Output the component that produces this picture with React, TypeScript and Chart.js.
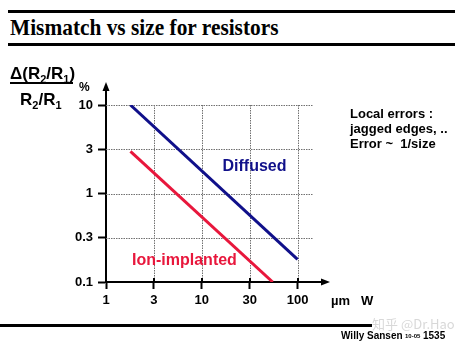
import React, { useEffect, useRef } from "react";
import { Chart, registerables } from "chart.js";

Chart.register(...registerables);

// ---- data ----
const xTickValues = [1, 3.162, 10, 31.62, 100];
const xTickLabels = ["1", "3", "10", "30", "100"];
const yTickValues = [0.1, 0.3162, 1, 3.162, 10];
const yTickLabels = ["0.1", "0.3", "1", "3", "10"];

const diffusedWidth = [1.8, 100];
const diffusedError = [10, 0.18];
const ionWidth = [1.8, 55];
const ionError = [3, 0.1];

const xMin = 1;
const xMax = 145;
const yMin = 0.1;
const yMax = 10;

const SANS = "'Liberation Sans', Arial, Helvetica, sans-serif";
const SERIF = "'Liberation Serif', 'Times New Roman', serif";
const NAVY = "#10108a";
const RED = "#e8173c";
const GRID = "#707070";

const gridPlugin = {
  id: "dottedGrid",
  beforeDatasetsDraw(chart: any) {
    const { ctx, chartArea } = chart;
    const { left, right, top, bottom } = chartArea;
    const xs = chart.scales.x;
    const ys = chart.scales.y;
    ctx.save();
    ctx.strokeStyle = GRID;
    ctx.lineWidth = 1;
    ctx.setLineDash([1.5, 1]);
    ctx.beginPath();
    xTickValues.forEach((v, i) => {
      if (i === 0) return;
      const px = Math.round(xs.getPixelForValue(v)) + 0.5;
      ctx.moveTo(px, top);
      ctx.lineTo(px, bottom);
    });
    yTickValues.forEach((v, i) => {
      if (i === 0) return;
      const py = Math.round(ys.getPixelForValue(v)) + 0.5;
      ctx.moveTo(left, py);
      ctx.lineTo(right, py);
    });
    ctx.stroke();
    ctx.restore();
  },
};

const arrowPlugin = {
  id: "axisArrows",
  afterDraw(chart: any) {
    const { ctx, chartArea } = chart;
    const { left, right, top, bottom } = chartArea;
    ctx.save();
    ctx.strokeStyle = "#000";
    ctx.fillStyle = "#000";
    ctx.lineWidth = 2;
    // y axis extension
    ctx.beginPath();
    ctx.moveTo(left, top);
    ctx.lineTo(left, top - 17);
    ctx.stroke();
    ctx.beginPath();
    ctx.moveTo(left, top - 23);
    ctx.lineTo(left - 3.5, top - 14);
    ctx.lineTo(left + 3.5, top - 14);
    ctx.closePath();
    ctx.fill();
    // x axis extension
    ctx.beginPath();
    ctx.moveTo(right, bottom);
    ctx.lineTo(right + 10, bottom);
    ctx.stroke();
    ctx.beginPath();
    ctx.moveTo(right + 17, bottom);
    ctx.lineTo(right + 8, bottom - 3.5);
    ctx.lineTo(right + 8, bottom + 3.5);
    ctx.closePath();
    ctx.fill();
    // x tick marks crossing the axis slightly
    const xs = chart.scales.x;
    xTickValues.forEach((v) => {
      const px = Math.round(xs.getPixelForValue(v));
      ctx.beginPath();
      ctx.moveTo(px, bottom);
      ctx.lineTo(px, bottom - 4);
      ctx.stroke();
    });
    ctx.restore();
  },
};

function ChartCanvas() {
  const ref = useRef<HTMLCanvasElement | null>(null);
  useEffect(() => {
    if (!ref.current) return;
    const chart = new Chart(ref.current, {
      type: "line",
      data: {
        datasets: [
          {
            label: "Diffused",
            data: diffusedWidth.map((w, i) => ({ x: w, y: diffusedError[i] })),
            borderColor: NAVY,
            borderWidth: 3,
            pointRadius: 0,
            fill: false,
          },
          {
            label: "Ion-implanted",
            data: ionWidth.map((w, i) => ({ x: w, y: ionError[i] })),
            borderColor: RED,
            borderWidth: 3,
            pointRadius: 0,
            fill: false,
          },
        ],
      },
      options: {
        animation: false,
        responsive: false,
        devicePixelRatio: 1,
        layout: { padding: { left: 0, top: 105, right: 161, bottom: 0 } },
        plugins: {
          legend: { display: false },
          tooltip: { enabled: false },
          title: { display: false },
        },
        scales: {
          x: {
            type: "logarithmic",
            min: xMin,
            max: xMax,
            afterBuildTicks: (scale: any) => {
              scale.ticks = xTickValues.map((v) => ({ value: v }));
            },
            afterFit: (scale: any) => {
              scale.height = 71;
            },
            ticks: {
              autoSkip: false,
              maxRotation: 0,
              padding: 4,
              color: "#000",
              font: { family: SANS, size: 13, weight: "bold" },
              callback: (_v: any, i: number) => xTickLabels[i],
            },
            grid: {
              drawOnChartArea: false,
              color: GRID,
              tickColor: "#000",
              tickWidth: 2,
              tickLength: 7,
            },
            border: { color: "#000", width: 2 },
          },
          y: {
            type: "logarithmic",
            min: yMin,
            max: yMax,
            afterBuildTicks: (scale: any) => {
              scale.ticks = yTickValues.map((v) => ({ value: v }));
            },
            afterFit: (scale: any) => {
              scale.width = 106;
            },
            ticks: {
              autoSkip: false,
              padding: 5,
              color: "#000",
              font: { family: SANS, size: 13, weight: "bold" },
              callback: (_v: any, i: number) => yTickLabels[i],
            },
            grid: {
              drawOnChartArea: false,
              color: GRID,
              tickColor: "#000",
              tickWidth: 2,
              tickLength: 8,
            },
            border: { color: "#000", width: 2 },
          },
        },
      },
      plugins: [gridPlugin, arrowPlugin],
    } as any);
    return () => chart.destroy();
  }, []);
  return (
    <canvas
      ref={ref}
      width={474}
      height={353}
      style={{ position: "absolute", left: 0, top: 0, width: 474, height: 353 }}
    />
  );
}

const abs = (left: number, top: number, extra: any = {}) => ({
  position: "absolute" as const,
  left,
  top,
  whiteSpace: "nowrap" as const,
  lineHeight: 1,
  ...extra,
});

const subStyle = { fontSize: 11, position: "relative" as const, top: 4, verticalAlign: "baseline" };

export default function App() {
  return (
    <div
      style={{
        position: "absolute",
        left: 0,
        top: 0,
        width: 474,
        height: 353,
        background: "#fff",
        overflow: "hidden",
        fontFamily: SANS,
        color: "#000",
      }}
    >
      {/* title */}
      <div style={abs(8, 10, { width: 447, height: 3, background: "#000" })} />
      <div
        style={abs(10, 15, {
          fontFamily: SERIF,
          fontWeight: "bold",
          fontSize: 24,
          transform: "scaleX(0.89)",
          transformOrigin: "left top",
        })}
      >
        Mismatch vs size for resistors
      </div>
      <div style={abs(8, 43, { width: 447, height: 3, background: "#000" })} />

      <ChartCanvas />

      {/* y label */}
      <div style={abs(10, 64.5, { fontWeight: "bold", fontSize: 17 })}>
        Δ(R<span style={subStyle}>2</span>/R<span style={subStyle}>1</span>)
      </div>
      <div style={abs(10, 82, { width: 63, height: 2, background: "#000" })} />
      <div style={abs(20, 90.5, { fontWeight: "bold", fontSize: 17 })}>
        R<span style={subStyle}>2</span>/R<span style={subStyle}>1</span>
      </div>
      <div style={abs(79, 81, { fontWeight: "bold", fontSize: 12 })}>%</div>

      {/* annotations */}
      <div style={abs(350, 106.3, { fontWeight: "bold", fontSize: 13, lineHeight: "15px", whiteSpace: "pre" })}>
        {"Local errors :\njagged edges, ..\nError ~  1/size"}
      </div>
      <div style={abs(222.5, 158.2, { fontWeight: "bold", fontSize: 16, color: NAVY })}>Diffused</div>
      <div style={abs(132, 251.5, { fontWeight: "bold", fontSize: 16, color: RED })}>Ion-implanted</div>

      {/* x unit */}
      <div style={abs(331, 294, { fontWeight: "bold", fontSize: 13 })}>µm</div>
      <div style={abs(361, 294, { fontWeight: "bold", fontSize: 13 })}>W</div>

      {/* footer */}
      <div style={abs(0, 324, { width: 372, height: 3, background: "#000" })} />
      <div style={abs(372, 317, { fontSize: 13, color: "rgba(190,190,190,0.6)", fontFamily: "'Noto Sans CJK SC', " + SANS })}>
        知乎 @Dr.Hao
      </div>
      <div style={abs(341, 331, { fontWeight: "bold", fontSize: 10 })}>Willy Sansen</div>
      <div style={abs(405, 333, { fontWeight: "bold", fontSize: 6 })}>10-05</div>
      <div style={abs(423, 331, { fontWeight: "bold", fontSize: 10 })}>1535</div>
    </div>
  );
}
